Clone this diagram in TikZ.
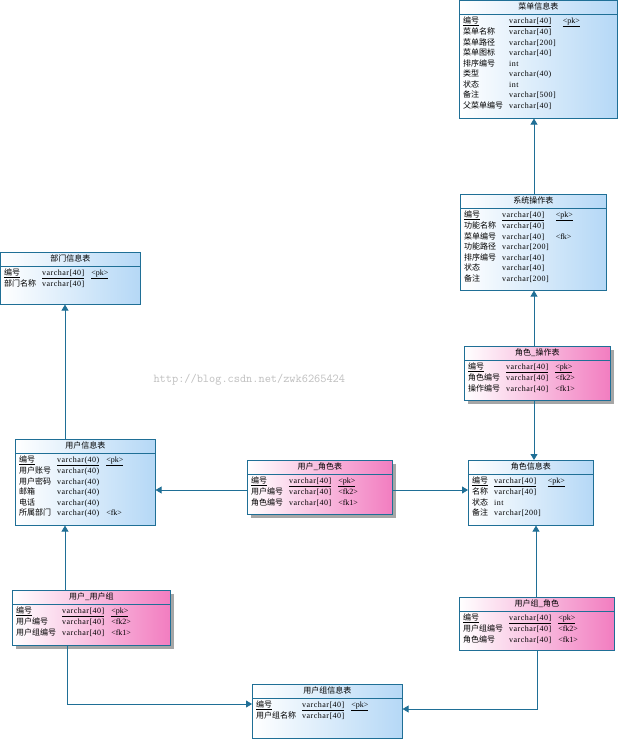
\documentclass[tikz,border=0pt]{standalone}
\usepackage{fontspec}
\setmainfont{Liberation Serif}
\newfontfamily\cjk{Noto Sans CJK SC}
\usetikzlibrary{arrows.meta,calc}
\definecolor{edge}{HTML}{1F6F96}
\definecolor{bluef}{HTML}{B5D8F6}
\definecolor{pinkf}{HTML}{F27DC0}
\newcommand\ty[1]{{\addfontfeatures{LetterSpace=6}#1}}
\newcommand\pkr[3]{\underline{\cjk #1} & \underline{\ty{#2}} & \underline{#3}\\}
\newcommand\rw[3]{{\cjk #1} & \ty{#2} & #3\\}
\tikzset{
 tb/.style={draw=edge, line width=0.6pt, anchor=north west, inner sep=0pt, left color=white, right color=bluef},
 tp/.style={draw=edge, line width=0.6pt, anchor=north west, inner sep=0pt, left color=white, right color=pinkf},
 ttl/.style={anchor=north, inner sep=1pt, font=\fontsize{8}{9}\selectfont\cjk},
 body/.style={anchor=north west, inner sep=0pt, font=\fontsize{8}{10}\selectfont},
 con/.style={draw=edge, line width=0.8pt, -{Triangle[length=6pt,width=7pt]}},
 shd/.style={fill=black!35, draw=none}
}
\newcommand\tab[8]{% name, x, y, w, h, style, title, rows
 \node[#6, minimum width=#4pt, minimum height=#5pt] (#1) at (#2,#3) {};
 \node[ttl] (#1t) at ($(#1.north)+(0,1.5)$) {#7};
 \draw[edge, line width=0.6pt] ($(#1.north west)+(0,14)$) -- ($(#1.north east)+(0,14)$);
 \node[body] (#1b) at ($(#1.north west)+(4,16)$) {\renewcommand\arraystretch{1.05}\begin{tabular}{@{}l@{\hspace{6pt}}l@{\hspace{7pt}}l@{}}#8\end{tabular}};
}
\begin{document}
\begin{tikzpicture}[x=1pt,y=-1pt]
\useasboundingbox[fill=white] (0,0) rectangle (619,739);
\node[anchor=west, text=black!25, font=\fontsize{12}{14}\selectfont\ttfamily] (wm) at (150,380) {http://blog.csdn.net/zwk6265424};
% shadows
\fill[shd] (468,350) rectangle (614,404);
\fill[shd] (251,464) rectangle (396,518);
\fill[shd] (16,594) rectangle (174,649);
\tab{menu}{459}{0}{158}{118}{tb}{菜单信息表}{\pkr{编号}{varchar[40]}{<pk>}\rw{菜单名称}{varchar[40]}{}\rw{菜单路径}{varchar[200]}{}\rw{菜单图标}{varchar[40]}{}\rw{排序编号}{int}{}\rw{类型}{varchar(40)}{}\rw{状态}{int}{}\rw{备注}{varchar[500]}{}\rw{父菜单编号}{varchar[40]}{}}
\tab{op}{460}{194}{146}{96}{tb}{系统操作表}{\pkr{编号}{varchar[40]}{<pk>}\rw{功能名称}{varchar[40]}{}\rw{菜单编号}{varchar[40]}{<fk>}\rw{功能路径}{varchar[200]}{}\rw{排序编号}{varchar[40]}{}\rw{状态}{varchar[40]}{}\rw{备注}{varchar[200]}{}}
\tab{roleop}{464}{346}{146}{54}{tp}{角色\_操作表}{\pkr{编号}{varchar[40]}{<pk>}\rw{角色编号}{varchar[40]}{<fk2>}\rw{操作编号}{varchar[40]}{<fk1>}}
\tab{dept}{0}{252}{140}{52}{tb}{部门信息表}{\pkr{编号}{varchar[40]}{<pk>}\rw{部门名称}{varchar[40]}{}}
\tab{user}{15}{439}{140}{86}{tb}{用户信息表}{\pkr{编号}{varchar(40)}{<pk>}\rw{用户账号}{varchar(40)}{}\rw{用户密码}{varchar(40)}{}\rw{邮箱}{varchar(40)}{}\rw{电话}{varchar(40)}{}\rw{所属部门}{varchar(40)}{<fk>}}
\tab{userrole}{247}{460}{145}{54}{tp}{用户\_角色表}{\pkr{编号}{varchar[40]}{<pk>}\rw{用户编号}{varchar[40]}{<fk2>}\rw{角色编号}{varchar[40]}{<fk1>}}
\tab{role}{468}{460}{125}{65}{tb}{角色信息表}{\pkr{编号}{varchar[40]}{<pk>}\rw{名称}{varchar[40]}{}\rw{状态}{int}{}\rw{备注}{varchar[200]}{}}
\tab{uug}{12}{590}{158}{55}{tp}{用户\_用户组}{\pkr{编号}{varchar[40]}{<pk>}\rw{用户编号}{varchar[40]}{<fk2>}\rw{用户组编号}{varchar[40]}{<fk1>}}
\tab{ugrole}{459}{597}{155}{53}{tp}{用户组\_角色}{\pkr{编号}{varchar[40]}{<pk>}\rw{用户组编号}{varchar[40]}{<fk2>}\rw{角色编号}{varchar[40]}{<fk1>}}
\tab{ug}{252}{684}{150}{54}{tb}{用户组信息表}{\pkr{编号}{varchar[40]}{<pk>}\rw{用户组名称}{varchar[40]}{}}
% connectors
\draw[con] (op.north -| 534,0) -- (menu.south -| 534,0);
\draw[con] (roleop.north -| 534,0) -- (op.south -| 534,0);
\draw[con] (roleop.south -| 534,0) -- (role.north -| 534,0);
\draw[con] (user.north -| 65,0) -- (dept.south -| 65,0);
\draw[con] (userrole.west |- 0,490) -- (user.east |- 0,490);
\draw[con] (userrole.east |- 0,490) -- (role.west |- 0,490);
\draw[con] (uug.north -| 65,0) -- (user.south -| 65,0);
\draw[con] (ugrole.north -| 536,0) -- (role.south -| 536,0);
\draw[con] (uug.south -| 67,0) |- (ug.west |- 0,704);
\draw[con] (ugrole.south -| 537,0) |- (ug.east |- 0,709);
\end{tikzpicture}
\end{document}
